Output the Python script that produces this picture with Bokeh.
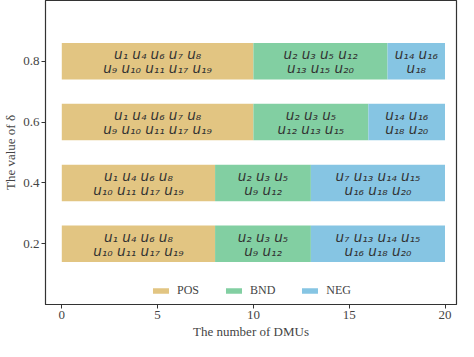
from bokeh.plotting import figure
from bokeh.models import ColumnDataSource, Legend, LegendItem, FixedTicker
from bokeh.core.properties import value
from bokeh.embed import file_html
from bokeh.resources import INLINE

deltas = [0.2, 0.4, 0.6, 0.8]
pos_counts = [8, 8, 10, 10]
bnd_counts = [5, 5, 6, 7]
neg_counts = [7, 7, 4, 3]

pos_line1 = ["u₁ u₄ u₆ u₈", "u₁ u₄ u₆ u₈", "u₁ u₄ u₆ u₇ u₈", "u₁ u₄ u₆ u₇ u₈"]
pos_line2 = ["u₁₀ u₁₁ u₁₇ u₁₉", "u₁₀ u₁₁ u₁₇ u₁₉", "u₉ u₁₀ u₁₁ u₁₇ u₁₉", "u₉ u₁₀ u₁₁ u₁₇ u₁₉"]
bnd_line1 = ["u₂ u₃ u₅", "u₂ u₃ u₅", "u₂ u₃ u₅", "u₂ u₃ u₅ u₁₂"]
bnd_line2 = ["u₉ u₁₂", "u₉ u₁₂", "u₁₂ u₁₃ u₁₅", "u₁₃ u₁₅ u₂₀"]
neg_line1 = ["u₇ u₁₃ u₁₄ u₁₅", "u₇ u₁₃ u₁₄ u₁₅", "u₁₄ u₁₆", "u₁₄ u₁₆"]
neg_line2 = ["u₁₆ u₁₈ u₂₀", "u₁₆ u₁₈ u₂₀", "u₁₈ u₂₀", "u₁₈"]

categories = ["POS", "BND", "NEG"]
colors = ["#E2C582", "#82CFA2", "#86C5E3"]

serif = "Liberation Serif"

p = figure(width=458, height=341, x_range=(-0.85, 20.6), y_range=(0.0, 1.0),
           output_backend="svg", toolbar_location=None,
           min_border_top=0, min_border_right=2, min_border_left=2, min_border_bottom=2)
p.title.visible = False

segments = [pos_counts, bnd_counts, neg_counts]
lines = [(pos_line1, pos_line2), (bnd_line1, bnd_line2), (neg_line1, neg_line2)]
renderers = []
left = [0] * len(deltas)
for cat, counts, col, (l1, l2) in zip(categories, segments, colors, lines):
    right = [a + b for a, b in zip(left, counts)]
    mid = [(a + b) / 2 for a, b in zip(left, right)]
    src = ColumnDataSource(dict(y=deltas, left=left, right=right, mid=mid, l1=l1, l2=l2))
    r = p.hbar(y="y", left="left", right="right", height=0.12, source=src,
               fill_color=col, line_color=None)
    renderers.append((cat, r))
    for col_name, off in (("l1", -7), ("l2", 7)):
        p.text(x="mid", y="y", text=col_name, source=src, y_offset=off,
               text_align="center", text_baseline="middle",
               text_font=value("DejaVu Sans"), text_font_style="italic",
               text_font_size="13.5px", text_color="#333333")
    left = right

legend = Legend(items=[LegendItem(label=c, renderers=[r]) for c, r in renderers],
                orientation="horizontal")
legend.location = "bottom_center"
legend.border_line_color = None
legend.background_fill_alpha = 0
legend.label_text_font = serif
legend.label_text_font_size = "12px"
legend.glyph_width = 20
legend.glyph_height = 7
legend.spacing = 24
legend.margin = 6
legend.label_standoff = 7
p.add_layout(legend)

p.xaxis.ticker = FixedTicker(ticks=[0, 5, 10, 15, 20])
p.yaxis.ticker = FixedTicker(ticks=deltas)
p.xaxis.axis_label = "The number of DMUs"
p.yaxis.axis_label = "The value of δ"
for ax in (p.xaxis, p.yaxis):
    ax.axis_label_text_font = serif
    ax.axis_label_text_font_style = "normal"
    ax.axis_label_text_font_size = "13px"
    ax.major_label_text_font = serif
    ax.major_label_text_font_size = "13px"
    ax.minor_tick_line_color = None
    ax.major_tick_out = 4
    ax.major_tick_in = 0
    ax.axis_line_color = "#333333"
    ax.major_tick_line_color = "#333333"
    ax.major_label_standoff = 2
    ax.axis_label_standoff = 2
p.xgrid.grid_line_color = None
p.ygrid.grid_line_color = None
p.outline_line_color = "#333333"
p.outline_line_width = 1.2
p.outline_line_alpha = 1

open("out.html", "w").write(file_html(p, INLINE))
